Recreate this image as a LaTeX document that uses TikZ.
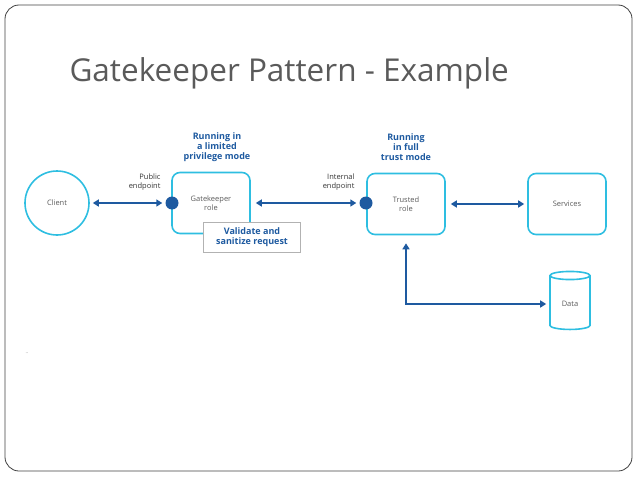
\documentclass[tikz,border=0pt]{standalone}
\usepackage{fontspec}
\setmainfont{Open Sans}
\usetikzlibrary{arrows.meta,shapes.geometric}
\definecolor{bl}{RGB}{46,190,225}
\definecolor{dk}{RGB}{30,90,160}
\definecolor{tx}{RGB}{90,90,90}
\begin{document}
\begin{tikzpicture}[x=1pt,y=-1pt,
 box/.style={draw=bl,line width=1.6pt,rounded corners=8pt,minimum width=78pt,minimum height=61pt,align=center,font=\fontsize{7.5}{9}\selectfont,text=tx},
 arr/.style={draw=dk,line width=1.8pt,{Triangle[length=6pt,width=7pt]}-{Triangle[length=6pt,width=7pt]}},
 dot/.style={circle,fill=dk,inner sep=0pt,minimum size=13pt},
 lab/.style={font=\fontsize{7.5}{9}\selectfont,align=right,text=black!80},
 run/.style={font=\bfseries\fontsize{9}{10}\selectfont,align=center,text=dk}]
\useasboundingbox (0,0) rectangle (638,479);
\draw[black!75,line width=0.8pt,rounded corners=14pt] (5,5) rectangle (632,471);
\node[anchor=west,text=tx,font=\fontsize{31.5}{36}\selectfont] (title) at (66,73) {Gatekeeper Pattern - Example};
\node[circle,draw=bl,line width=1.6pt,minimum size=64pt,font=\fontsize{7.5}{9}\selectfont,text=tx] (client) at (57,203) {Client};
\node[box] (gk) at (211,203) {Gatekeeper\\role};
\node[box] (tr) at (406,204) {Trusted\\role};
\node[box] (sv) at (567,204) {Services};
\node[dot] (d1) at (172,203) {};
\node[dot] (d2) at (366,203) {};
\node[draw=gray!60,fill=white,line width=0.6pt,minimum width=97pt,minimum height=30pt,align=center,font=\bfseries\fontsize{9}{10.5}\selectfont,text=dk] (val) at (252,237) {Validate and\\sanitize request};
\node[cylinder,shape border rotate=90,draw=bl,line width=1.6pt,minimum width=40pt,minimum height=58pt,aspect=0.35,font=\fontsize{7.5}{9}\selectfont,text=tx] (data) at (570,304) {Data};
\node[lab,anchor=south east] (pe) at (164,194) {Public\\endpoint};
\node[lab,anchor=south east] (ie) at (358,194) {Internal\\endpoint};
\node[run] (r1) at (217,147) {Running in\\a limited\\privilege mode};
\node[run] (r2) at (406,147) {Running\\in full\\trust mode};
\node[font=\tiny,text=gray] (mk) at (27,353) {..};
\draw[arr] ([xshift=3pt]client.east) -- ([xshift=-3pt]d1.west);
\draw[arr] ([xshift=5pt]gk.east) -- ([xshift=-3pt]d2.west);
\draw[arr] ([xshift=5pt]tr.east) -- ([xshift=-3pt]sv.west);
\draw[arr] ([yshift=-8pt]tr.south) |- ([xshift=-3pt]data.west);
\end{tikzpicture}
\end{document}
